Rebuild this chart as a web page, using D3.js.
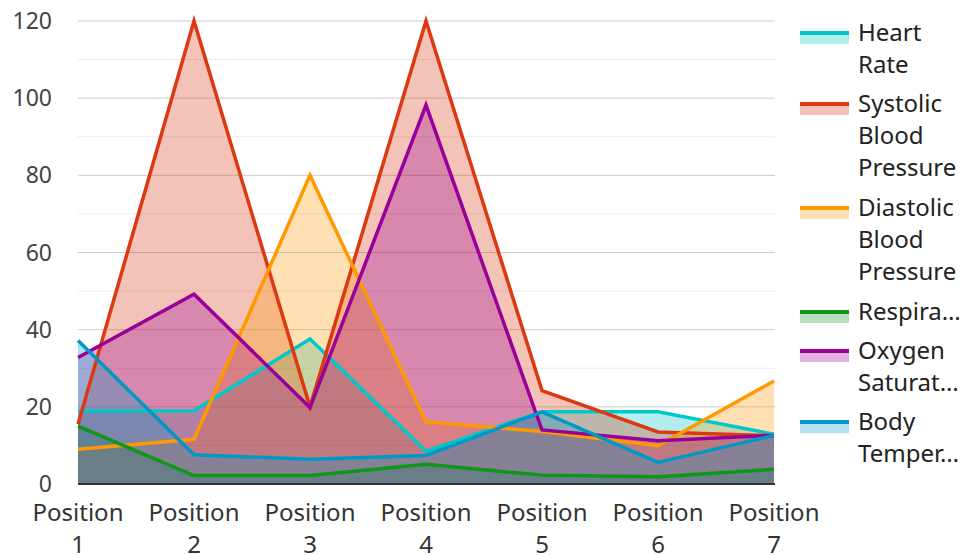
<!DOCTYPE html>
<html><head><meta charset="utf-8">
<script src="https://cdn.jsdelivr.net/npm/d3@7"></script>
<style>body{margin:0;background:#fff}svg{display:block;font-family:"Noto Sans","Open Sans",sans-serif}</style>
</head><body><svg id="c" width="963" height="555"></svg>
<script>
const categories = ["Position 1","Position 2","Position 3","Position 4","Position 5","Position 6","Position 7"];
const seriesNames = ["Heart Rate","Systolic Blood Pressure","Diastolic Blood Pressure","Respiratory Rate","Oxygen Saturation","Body Temperature"];
const legendLines = [["Heart","Rate"],["Systolic","Blood","Pressure"],["Diastolic","Blood","Pressure"],["Respira…"],["Oxygen","Saturat…"],["Body","Temper…"]];
const colors = ["#00c8c8","#dc3912","#ff9900","#109618","#990099","#0099c6"];
const heartRate   = [18.9, 19.0, 37.6, 8.5, 18.7, 18.7, 12.9];
const systolic    = [15.5, 120, 20.0, 120, 24.2, 13.5, 12.5];
const diastolic   = [9.0, 11.6, 80.0, 16.1, 13.6, 9.9, 26.7];
const respiratory = [15.0, 2.2, 2.2, 5.1, 2.3, 1.9, 3.8];
const oxygen      = [32.8, 49.2, 19.8, 98.2, 14.0, 11.2, 12.6];
const bodyTemp    = [37.2, 7.6, 6.4, 7.4, 18.7, 5.6, 12.6];
const yTicks = [0,20,40,60,80,100,120];
const yMinorTicks = [10,30,50,70,90,110];
const allSeries = [heartRate, systolic, diastolic, respiratory, oxygen, bodyTemp];

const svg = d3.select("#c");
const L = 78, R = 775, T = 21, B = 484;
const x = d3.scalePoint().domain(categories).range([L, 774]);
const y = d3.scaleLinear().domain([0,120]).range([B, T]);

const g = svg.append("g");
g.selectAll(".minor").data(yMinorTicks).join("line")
  .attr("x1", L).attr("x2", R).attr("y1", d=>y(d)).attr("y2", d=>y(d))
  .attr("stroke", "#ebebeb").attr("stroke-width", 1);
g.selectAll(".major").data(yTicks.filter(d=>d>0)).join("line")
  .attr("x1", L).attr("x2", R).attr("y1", d=>y(d)).attr("y2", d=>y(d))
  .attr("stroke", "#cccccc").attr("stroke-width", 1);

// y labels
g.selectAll(".yl").data(yTicks).join("text")
  .attr("x", 52).attr("y", d=>y(d)).attr("dy", "0.35em")
  .attr("text-anchor", "end").attr("font-size", 23).attr("fill", "#444")
  .text(d=>d);

const area = d3.area().x((d,i)=>x(categories[i])).y0(y(0)).y1(d=>y(d));
const line = d3.line().x((d,i)=>x(categories[i])).y(d=>y(d));

allSeries.forEach((s, k) => {
  g.append("path").attr("d", area(s)).attr("fill", colors[k]).attr("fill-opacity", 0.3);
});
allSeries.forEach((s, k) => {
  g.append("path").attr("d", line(s)).attr("fill", "none").attr("stroke", colors[k]).attr("stroke-width", 3.5).attr("stroke-linejoin","miter");
});

// baseline
g.append("line").attr("x1", L).attr("x2", R).attr("y1", B).attr("y2", B).attr("stroke", "#333").attr("stroke-width", 2);

// x labels
const xl = g.selectAll(".xl").data(categories).join("text")
  .attr("text-anchor", "middle").attr("font-size", 24).attr("fill", "#333");
xl.each(function(d){
  const parts = d.split(" ");
  const t = d3.select(this);
  parts.forEach((p,i)=>{
    t.append("tspan").attr("x", x(d)).attr("y", 513 + i*32).attr("dy","0.35em").text(p);
  });
});

// legend
const legendY = [33, 104, 208, 312, 351, 422];
legendLines.forEach((lines, k) => {
  const ly = legendY[k];
  g.append("rect").attr("x", 800).attr("y", ly+1).attr("width", 49).attr("height", 10)
    .attr("fill", colors[k]).attr("fill-opacity", 0.3);
  g.append("line").attr("x1", 800).attr("x2", 849).attr("y1", ly).attr("y2", ly)
    .attr("stroke", colors[k]).attr("stroke-width", 4);
  const t = g.append("text").attr("font-size", 24).attr("fill", "#222");
  lines.forEach((ln,i)=>{
    t.append("tspan").attr("x", 858).attr("y", ly + i*32).attr("dy","0.35em").text(ln);
  });
});
</script></body></html>
